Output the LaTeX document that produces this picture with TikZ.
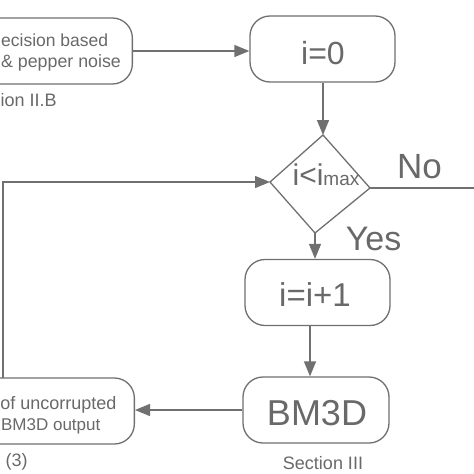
\documentclass[tikz,border=0pt]{standalone}
\usepackage{fontspec}
\setmainfont{Liberation Sans}
\usetikzlibrary{arrows.meta}
\definecolor{ink}{RGB}{112,112,112}
\definecolor{txt}{RGB}{105,105,105}
\begin{document}
\begin{tikzpicture}[x=1pt,y=-1pt,
  line width=1.3pt,
  boxstyle/.style={draw=ink,rounded corners=20pt,minimum width=#1,minimum height=66pt,inner sep=0pt},
  boxstyle/.default=145pt,
  bigtxt/.style={text=txt,inner sep=0pt,anchor=base,font=\fontsize{#1}{#1}\selectfont},
  smalltxt/.style={text=txt,inner sep=0pt,font=\fontsize{18}{18}\selectfont},
  arr/.style={draw=ink,-{Triangle[length=15pt,width=12pt]}},
  ln/.style={draw=ink}]
\clip (0,0) rectangle (474,474);
\fill[white] (0,0) rectangle (474,474);
% top-left box (cut at left edge)
\node[boxstyle=200pt,anchor=east] (tl) at (133,51) {};
\node[smalltxt,anchor=base west,font=\fontsize{17.5}{17.5}\selectfont] (tl1) at (0.5,46) {ecision based};
\node[smalltxt,anchor=base west,font=\fontsize{17.8}{17.8}\selectfont] (tl2) at (0.5,67) {\& pepper noise};
\node[smalltxt,anchor=base west] (tl3) at (0,106) {ion II.B};
% i=0
\node[boxstyle] (i0) at (322.5,49) {};
\node[bigtxt=32] (i0t) at (323,64) {i=0};
% diamond
\coordinate (dtop) at (323,135);
\coordinate (dleft) at (270,182);
\coordinate (dright) at (370,188);
\coordinate (dbot) at (315,233);
\draw[ln,line join=miter] (dtop) -- (dright) -- (dbot) -- (dleft) -- cycle;
\node[text=txt,inner sep=0pt,anchor=base] (dt) at (326,185) {{\fontsize{30}{30}\selectfont i<i}{\fontsize{19}{19}\selectfont max}};
\node[bigtxt=35] (no) at (419.5,178) {No};
\node[bigtxt=34] (yes) at (373.5,250) {Yes};
\coordinate (noend) at (476,188);
% i=i+1
\node[boxstyle] (inc) at (317.5,292.5) {};
\node[bigtxt=33] (inct) at (315,306) {i=i+1};
% BM3D
\node[boxstyle=146pt] (bm) at (316,410) {};
\node[bigtxt=36] (bmt) at (317,425) {BM3D};
\node[smalltxt,anchor=base] (sec) at (323,469) {Section III};
% bottom-left box (cut at left edge)
\node[boxstyle=200pt,anchor=east] (bl) at (135,411) {};
\node[smalltxt,anchor=base east] (bl1) at (117,409) {of uncorrupted};
\node[smalltxt,anchor=base west,font=\fontsize{17}{17}\selectfont] (bl2) at (0.5,430) {BM3D output};
\node[smalltxt,anchor=base west] (bl3) at (5,466) {(3)};
\coordinate (fbtop) at (3,182);
\coordinate (fbbot) at (3,378);
% connectors
\draw[arr] (tl.east) -- (i0.west |- tl.east);
\draw[arr] (i0.south -| dtop) -- (dtop);
\draw[arr] (dbot) -- (inc.north -| dbot);
\draw[arr] ([xshift=-7.5pt]inc.south) -- ([xshift=-6pt]bm.north);
\draw[arr] (bm.west) -- (bl.east |- bm.west);
\draw[arr] (fbbot) -- (fbtop) -- (dleft);
\draw[ln] (dright) -- (noend);
\end{tikzpicture}
\end{document}
